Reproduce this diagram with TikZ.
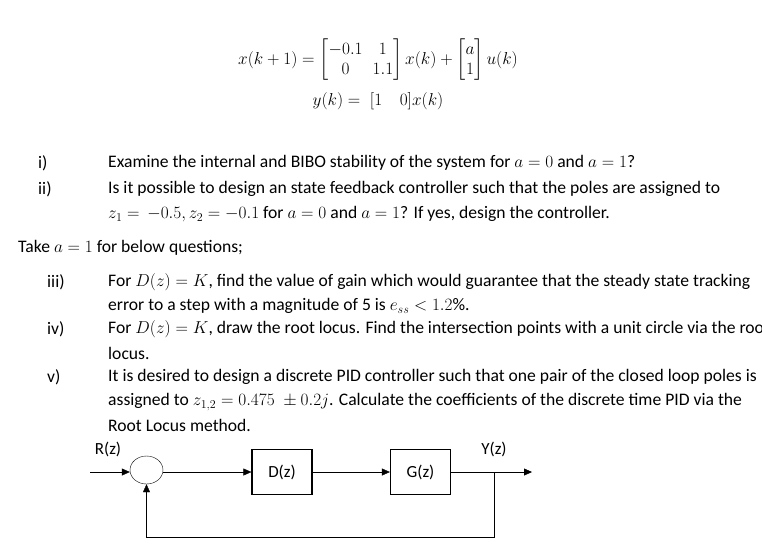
\documentclass[tikz,border=0pt]{standalone}
\usepackage{fontspec}
\usepackage{amsmath}
\setmainfont{Carlito}
\usetikzlibrary{arrows.meta,shapes.geometric}
\begin{document}
\begin{tikzpicture}[x=1pt,y=-1pt,
  txt/.style={anchor=west,inner sep=0pt,font=\fontsize{17.6}{25}\selectfont},
  blk/.style={draw,line width=1.2pt,minimum width=60pt,minimum height=45pt,font=\fontsize{17}{20}\selectfont},
  ar/.style={-{Triangle[length=8pt,width=7pt]}}]
\useasboundingbox (0,0) rectangle (762,550);
\node[font=\fontsize{17.6}{20}\selectfont] (e1) at (378,60) {$x(k+1)=\begin{bmatrix}-0.1 & 1\\ 0 & 1.1\end{bmatrix}x(k)+\begin{bmatrix}a\\1\end{bmatrix}u(k)$};
\node[font=\fontsize{17.6}{20}\selectfont] (e2) at (378,101) {$y(k)=\;[1\quad 0]x(k)$};
\node[txt] (l1) at (38,163) {i)};
\node[txt] (l2) at (38,189) {ii)};
\node[txt] (t1) at (108,163) {Examine the internal and BIBO stability of the system for $a=0$ and $a=1$?};
\node[txt] (t2) at (108,189) {Is it possible to design an state feedback controller such that the poles are assigned to};
\node[txt] (t3) at (108,214) {$z_1=\,-0.5, z_2=-0.1$ for $a=0$ and $a=1$? If yes, design the controller.};
\node[txt] (tk) at (18,248) {Take $a=1$ for below questions;};
\node[txt] (l3) at (47,282) {iii)};
\node[txt] (t4) at (108,282) {For $D(z)=K$, find the value of gain which would guarantee that the steady state tracking};
\node[txt] (t5) at (108,306) {error to a step with a magnitude of 5 is $e_{ss}<1.2\%$.};
\node[txt] (l4) at (47,329) {iv)};
\node[txt] (t6) at (108,329) {For $D(z)=K$, draw the root locus. Find the intersection points with a unit circle via the root};
\node[txt] (t7) at (108,353) {locus.};
\node[txt] (l5) at (47,377) {v)};
\node[txt] (t8) at (108,377) {It is desired to design a discrete PID controller such that one pair of the closed loop poles is};
\node[txt] (t9) at (108,402) {assigned to $z_{1,2}=0.475\;\pm0.2j$. Calculate the coefficients of the discrete time PID via the};
\node[txt] (t10) at (108,425) {Root Locus method.};
% block diagram
\node[font=\fontsize{17}{20}\selectfont] (R) at (108,449) {R(z)};
\node[font=\fontsize{17}{20}\selectfont] (Y) at (494,449) {Y(z)};
\node[draw,ellipse,minimum width=33pt,minimum height=28pt,inner sep=0pt] (s) at (146.5,470) {};
\node[blk] (D) at (282,472) {D(z)};
\node[blk] (G) at (420.5,472) {G(z)};
\coordinate (in) at (90,472);
\coordinate (br) at (494,472);
\coordinate (out) at (532,472);
\coordinate (bot) at (494,537);
\draw[ar] (in) -- (s.west |- in);
\draw[ar] (s.east |- in) -- (D.west);
\draw[ar] (D.east) -- (G.west);
\draw[ar] (G.east) -- (out);
\draw[ar] (br) -- (bot) -- (s.south |- bot) -- (s.south);
\end{tikzpicture}
\end{document}
